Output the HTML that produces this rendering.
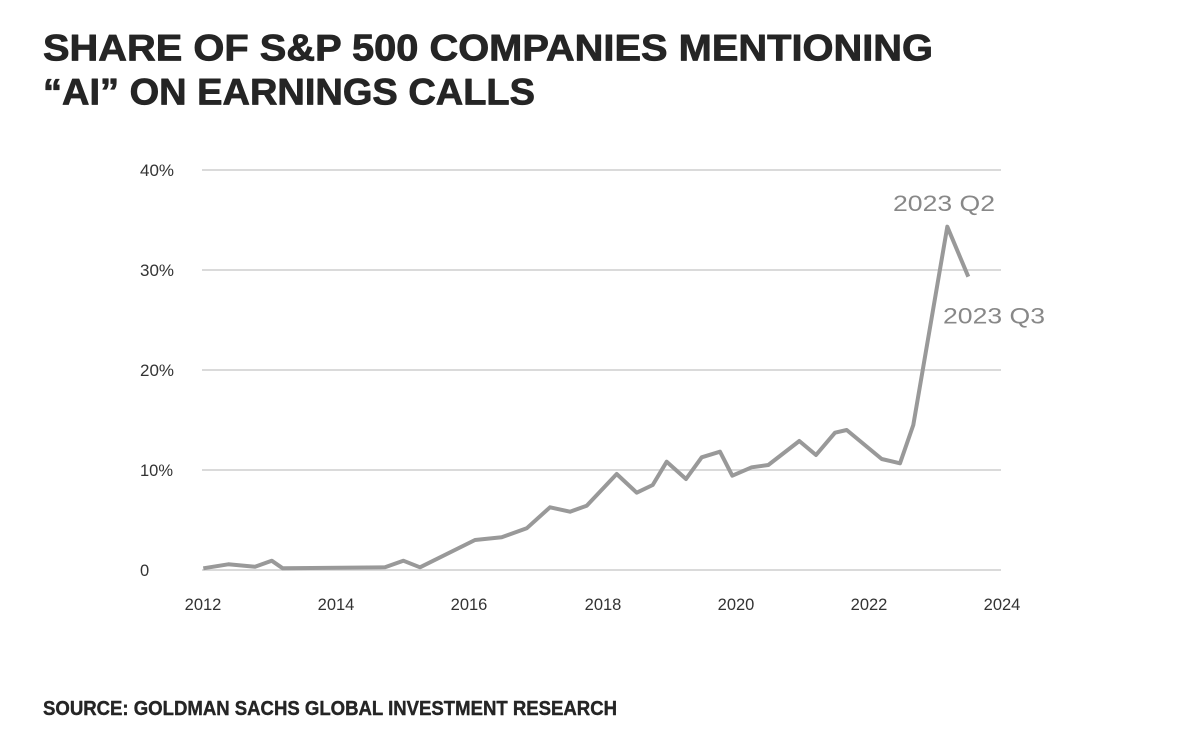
<!DOCTYPE html>
<html><head><meta charset="utf-8"><style>
html,body{margin:0;padding:0;background:#fff;}
svg{display:block;}
</style></head><body>
<svg width="1200" height="738" viewBox="0 0 1200 738" xmlns="http://www.w3.org/2000/svg">
<rect width="1200" height="738" fill="#fff"/>
<g font-family="'Liberation Sans', 'DejaVu Sans', sans-serif" font-weight="bold" fill="#252525" stroke="#252525" stroke-width="0.8" stroke-linejoin="round">
<text x="43" y="60.5" font-size="37" textLength="890" lengthAdjust="spacingAndGlyphs">SHARE OF S&amp;P 500 COMPANIES MENTIONING</text>
<text x="43" y="104.5" font-size="37" textLength="492" lengthAdjust="spacingAndGlyphs">“AI” ON EARNINGS CALLS</text>
<text x="43" y="715" font-size="20" stroke-width="0.4" textLength="574" lengthAdjust="spacingAndGlyphs">SOURCE: GOLDMAN SACHS GLOBAL INVESTMENT RESEARCH</text>
</g>
<g stroke="#dadada" stroke-width="2">
<line x1="202" y1="170" x2="1001" y2="170"/>
<line x1="202" y1="270" x2="1001" y2="270"/>
<line x1="202" y1="370" x2="1001" y2="370"/>
<line x1="202" y1="470" x2="1001" y2="470"/>
<line x1="202" y1="570" x2="1001" y2="570"/>
</g>
<g font-family="'Liberation Sans', 'DejaVu Sans', sans-serif" font-size="16.5" fill="#333">
<text x="140" y="176" textLength="34" lengthAdjust="spacingAndGlyphs">40%</text>
<text x="140" y="276" textLength="34" lengthAdjust="spacingAndGlyphs">30%</text>
<text x="140" y="376" textLength="34" lengthAdjust="spacingAndGlyphs">20%</text>
<text x="140" y="476" textLength="33" lengthAdjust="spacingAndGlyphs">10%</text>
<text x="140" y="576">0</text>
<g text-anchor="middle">
<text x="203" y="610">2012</text>
<text x="336" y="610">2014</text>
<text x="469" y="610">2016</text>
<text x="603" y="610">2018</text>
<text x="736" y="610">2020</text>
<text x="869" y="610">2022</text>
<text x="1002" y="610">2024</text>
</g>
</g>
<polyline fill="none" stroke="#999" stroke-width="4" stroke-linejoin="round" stroke-linecap="butt"
points="203.3,568.3 228.3,564.3 255,566.7 271.7,560.7 282.7,568.3 385,567.3 403.3,560.7 420,567.3 475,540 501.7,537.3 526.7,528.3 550,507.3 570,511.7 586.7,505.7 616.7,474 636.7,492.7 652.7,485 666.7,461.7 686,479 701.7,457.3 720,451.7 732.3,475.7 751.7,467.3 768.3,465 799.3,441 816,455 835,432.7 846.7,430 881.7,459 900,463.3 913.3,425 947.3,226.7 968.3,276.7"/>
<g font-family="'Liberation Sans', 'DejaVu Sans', sans-serif" font-size="22" fill="#888">
<text x="893" y="211" textLength="102" lengthAdjust="spacingAndGlyphs">2023 Q2</text>
<text x="943" y="323.5" textLength="102" lengthAdjust="spacingAndGlyphs">2023 Q3</text>
</g>
</svg>
</body></html>
